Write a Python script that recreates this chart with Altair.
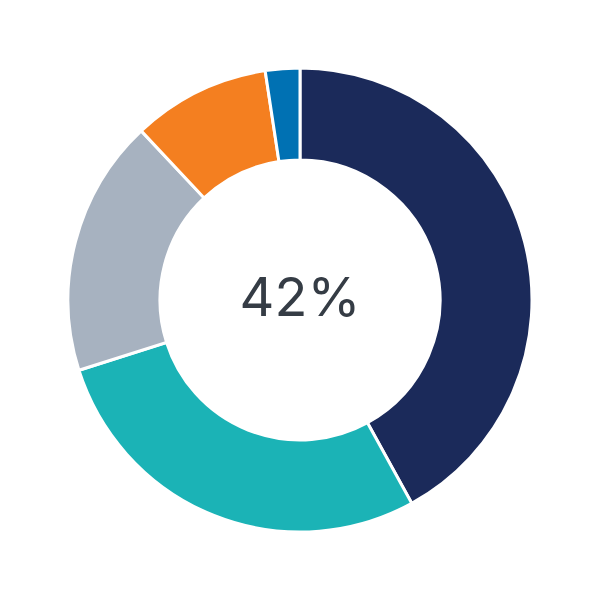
import altair as alt
import pandas as pd

categories = ["A", "B", "C", "D", "E"]
values = [42, 28.1, 17.9, 9.6, 2.4]
colors = ["#1b2a5a", "#1bb3b6", "#a7b2c0", "#f47f20", "#0071b3"]
center_label = "42%"

df = pd.DataFrame({"cat": categories, "value": values, "order": list(range(len(categories)))})

arcs = alt.Chart(df).mark_arc(innerRadius=140, outerRadius=232, stroke="white", strokeWidth=3).encode(
    theta=alt.Theta("value:Q", stack=True),
    color=alt.Color("cat:N", scale=alt.Scale(domain=categories, range=colors), legend=None),
    order=alt.Order("order:Q"),
)

text = alt.Chart(pd.DataFrame({"t": [center_label]})).mark_text(
    font="Inter", fontSize=54, fontWeight=400, color="#353c45", baseline="middle", align="center"
).encode(text="t:N")

chart = alt.layer(arcs, text).properties(
    width=584, height=584, padding=0, autosize=alt.AutoSizeParams(type="none")
).configure_view(stroke=None)

chart.save("out.html", embed_options={"renderer": "svg", "actions": False})
